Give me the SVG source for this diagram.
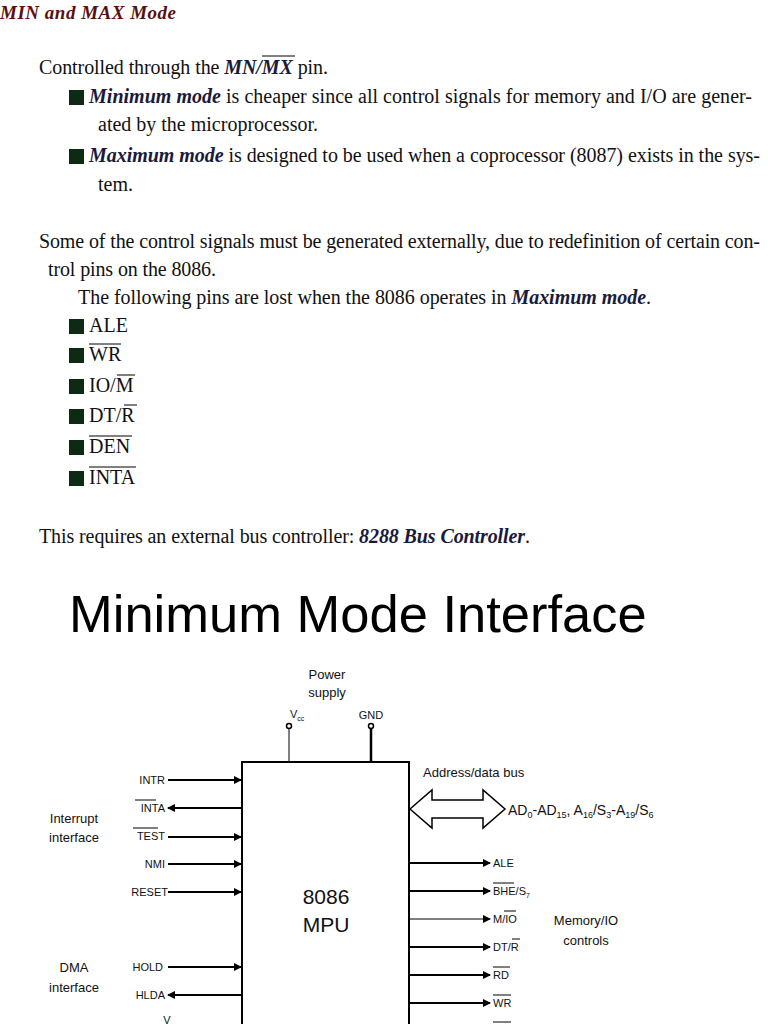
<svg xmlns="http://www.w3.org/2000/svg" width="768" height="1024" viewBox="0 0 768 1024">
<style>
.t{font-family:"Liberation Serif",serif;font-size:20px;fill:#111}
.b{font-style:italic;font-weight:bold;fill:#1a1a3a}
.s{font-family:"Liberation Sans",sans-serif;font-size:11px;fill:#111}
.m{font-family:"Liberation Sans",sans-serif;font-size:13px;fill:#111}
.w{stroke:#000;stroke-width:2;fill:none}
.ol{stroke:#000;stroke-width:1}
</style>
<defs>
<marker id="ah" markerWidth="8" markerHeight="8" refX="7" refY="4" orient="auto" markerUnits="userSpaceOnUse"><path d="M0,0L8,4L0,8Z" fill="#000"/></marker>
</defs>
<rect width="768" height="1024" fill="#fff"/>
<text x="0" y="19" class="t" textLength="176" style="font-style:italic;font-weight:bold;fill:#5a1010;font-size:19px">MIN and MAX Mode</text>
<text x="39" y="74" class="t" textLength="289">Controlled through the <tspan class="b">MN/MX</tspan> pin.</text>
<line x1="262" y1="56" x2="295" y2="56" class="ol" stroke-width="1.5"/>
<g fill="#0f2a12"><rect x="69" y="90" width="15" height="15"/><rect x="69" y="149" width="15" height="15"/><rect x="69" y="319" width="15" height="15"/><rect x="69" y="348" width="15" height="15"/><rect x="69" y="379" width="15" height="15"/><rect x="69" y="409" width="15" height="15"/><rect x="69" y="440" width="15" height="15"/><rect x="69" y="471" width="15" height="15"/></g>
<text x="89" y="103" class="t" textLength="663"><tspan class="b">Minimum mode</tspan> is cheaper since all control signals for memory and I/O are gener-</text>
<text x="98" y="131" class="t" textLength="220">ated by the microprocessor.</text>
<text x="89" y="162" class="t" textLength="671"><tspan class="b">Maximum mode</tspan> is designed to be used when a coprocessor (8087) exists in the sys-</text>
<text x="98" y="191" class="t">tem.</text>
<text x="39" y="248" class="t" textLength="721">Some of the control signals must be generated externally, due to redefinition of certain con-</text>
<text x="48" y="276" class="t" textLength="168">trol pins on the 8086.</text>
<text x="78" y="304" class="t" textLength="573">The following pins are lost when the 8086 operates in <tspan class="b">Maximum mode</tspan>.</text>
<text x="89" y="332" class="t">ALE</text>
<text x="89" y="361" class="t">WR</text><line x1="89" y1="344" x2="121" y2="344" class="ol"/>
<text x="89" y="392" class="t">IO/M</text><line x1="117" y1="375" x2="135" y2="375" class="ol"/>
<text x="89" y="422" class="t">DT/R</text><line x1="124" y1="405" x2="137" y2="405" class="ol"/>
<text x="89" y="453" class="t">DEN</text><line x1="89" y1="436" x2="132" y2="436" class="ol"/>
<text x="89" y="484" class="t">INTA</text><line x1="89" y1="467" x2="136" y2="467" class="ol"/>
<text x="39" y="543" class="t" textLength="491">This requires an external bus controller: <tspan class="b">8288 Bus Controller</tspan>.</text>
<text x="69" y="632" style="font-family:'Liberation Sans',sans-serif;font-size:52.5px;fill:#000">Minimum Mode Interface</text>

<g id="mpu"><rect x="242" y="762" width="167" height="280" class="w"/>
<text x="326" y="904" class="m" style="font-size:21px" text-anchor="middle">8086</text>
<text x="326" y="932" class="m" style="font-size:21px" text-anchor="middle">MPU</text></g>
<g id="power"><text x="327" y="679" class="m" text-anchor="middle">Power</text><text x="327" y="697" class="m" text-anchor="middle">supply</text>
<text x="290" y="718" class="s">V<tspan font-size="7" dy="3">cc</tspan></text><text x="371" y="719" class="s" text-anchor="middle">GND</text>
<circle cx="289" cy="726" r="2.5" fill="#fff" stroke="#000" stroke-width="1.5"/><circle cx="371" cy="726" r="2.5" fill="#fff" stroke="#000" stroke-width="1.5"/></g>
<g id="connectors" stroke="#000" stroke-width="2" fill="none">
<line x1="289" y1="729" x2="289" y2="762" stroke-width="1"/>
<line x1="371" y1="729" x2="371" y2="762" stroke-width="2.5"/>
<line x1="168" y1="780" x2="241" y2="780" marker-end="url(#ah)"/>
<line x1="241" y1="808" x2="168" y2="808" marker-end="url(#ah)"/>
<line x1="168" y1="837" x2="241" y2="837" marker-end="url(#ah)"/>
<line x1="168" y1="864" x2="241" y2="864" marker-end="url(#ah)"/>
<line x1="168" y1="892" x2="241" y2="892" marker-end="url(#ah)"/>
<line x1="168" y1="967" x2="241" y2="967" marker-end="url(#ah)"/>
<line x1="241" y1="995" x2="168" y2="995" marker-end="url(#ah)"/>
<line x1="410" y1="863" x2="490" y2="863" marker-end="url(#ah)"/>
<line x1="410" y1="891" x2="490" y2="891" marker-end="url(#ah)"/>
<line x1="410" y1="919" x2="490" y2="919" stroke-width="1" marker-end="url(#ah)"/>
<line x1="410" y1="947" x2="490" y2="947" marker-end="url(#ah)"/>
<line x1="410" y1="975" x2="490" y2="975" marker-end="url(#ah)"/>
<line x1="410" y1="1003" x2="490" y2="1003" marker-end="url(#ah)"/>
<path d="M410,809 L432,790 L432,800 L483,800 L483,790 L505,809 L483,828 L483,818 L432,818 L432,828 Z" stroke-width="1.5"/>
</g>
<g id="labels" class="s">
<text x="165" y="784" class="s" text-anchor="end">INTR</text>
<text x="165" y="812" class="s" text-anchor="end">INTA</text><line x1="135" y1="800" x2="156" y2="800" class="ol"/>
<text x="165" y="840" class="s" text-anchor="end">TEST</text><line x1="133" y1="828" x2="158" y2="828" class="ol"/>
<text x="165" y="868" class="s" text-anchor="end">NMI</text>
<text x="168" y="896" class="s" text-anchor="end">RESET</text>
<text x="163" y="971" class="s" text-anchor="end">HOLD</text>
<text x="165" y="999" class="s" text-anchor="end">HLDA</text>
<text x="167" y="1024" class="s" text-anchor="middle">V</text>
<text x="74" y="823" class="m" text-anchor="middle">Interrupt</text><text x="74" y="842" class="m" text-anchor="middle">interface</text>
<text x="74" y="972" class="m" text-anchor="middle">DMA</text><text x="74" y="992" class="m" text-anchor="middle">interface</text>
<text x="423" y="777" class="m">Address/data bus</text>
<text x="508" y="815" class="m" style="font-size:14px">AD<tspan font-size="9" dy="3">0</tspan><tspan dy="-3">-AD</tspan><tspan font-size="9" dy="3">15</tspan><tspan dy="-3">, A</tspan><tspan font-size="9" dy="3">16</tspan><tspan dy="-3">/S</tspan><tspan font-size="9" dy="3">3</tspan><tspan dy="-3">-A</tspan><tspan font-size="9" dy="3">19</tspan><tspan dy="-3">/S</tspan><tspan font-size="9" dy="3">6</tspan></text>
<text x="493" y="867" class="s">ALE</text>
<text x="493" y="895" class="s">BHE/S<tspan font-size="7" dy="3">7</tspan></text><line x1="493" y1="883" x2="514" y2="883" class="ol"/>
<text x="493" y="923" class="s">M/IO</text><line x1="504" y1="911" x2="516" y2="911" class="ol"/>
<text x="493" y="951" class="s">DT/R</text><line x1="512" y1="939" x2="520" y2="939" class="ol"/>
<text x="493" y="979" class="s">RD</text><line x1="493" y1="967" x2="510" y2="967" class="ol"/>
<text x="493" y="1007" class="s">WR</text><line x1="493" y1="995" x2="511" y2="995" class="ol"/>
<line x1="493" y1="1022" x2="511" y2="1022" class="ol"/>
<text x="586" y="925" class="m" text-anchor="middle">Memory/IO</text><text x="586" y="945" class="m" text-anchor="middle">controls</text>
</g>
</svg>
